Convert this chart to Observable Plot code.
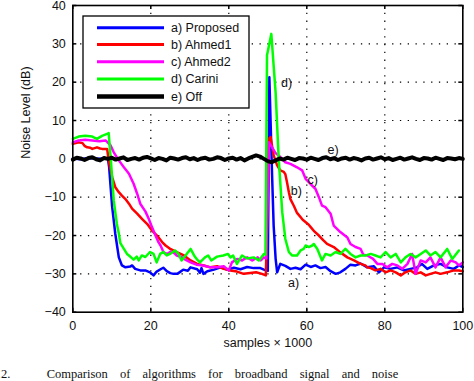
<!DOCTYPE html>
<html>
<head>
<meta charset="utf-8">
<script src="https://cdn.jsdelivr.net/npm/d3@7"></script>
<script src="https://cdn.jsdelivr.net/npm/@observablehq/plot@0.6"></script>
<style>
  body { margin: 0; background: white; width: 474px; height: 381px; overflow: hidden; }
  #chart svg { display: block; }
  #cap { height: 13px; font: 12.5px/12px "Liberation Serif", "DejaVu Serif", serif; white-space: nowrap; margin-left: 1px; word-spacing: 9px; color: #111; }
</style>
</head>
<body>
<div id="chart"></div>
<div id="cap">2.&nbsp;&nbsp; Comparison of algorithms for broadband signal and noise</div>
<script>
// ---- data (samples x 1000, noise level dB) ----
const seriesNames = ["a) Proposed", "b) Ahmed1", "c) Ahmed2", "d) Carini", "e) Off"];
const seriesColors = ["#0000ff", "#ff0000", "#ff00ff", "#00ff00", "#000000"];

const proposed = [[0,0.1],[2,-0.1],[4,0.2],[6,0.0],[8,0.1],[9,0],[9.3,-2],[9.7,-7.4],[10.1,-12.6],[10.5,-16.1],[10.9,-19.6],[11.4,-23],[11.8,-25.7],[12.6,-27.8],[13.5,-28.3],[14.7,-28.1],[15.2,-27.8],[16,-28.7],[17.3,-29.1],[18.6,-29.1],[19.8,-29.6],[20.7,-30.4],[21.5,-29.4],[22.5,-28.8],[23.2,-28.4],[24.1,-29.3],[25,-29.8],[25.8,-30],[26.8,-30],[28.3,-28.9],[29.5,-29.2],[30.2,-28.3],[31.9,-28.8],[32.6,-29.7],[33,-28.5],[33.5,-30],[34.5,-29.3],[36.2,-28.9],[37.9,-28.3],[39.6,-28.9],[41.3,-28.4],[43,-28.8],[44.7,-28.2],[46.4,-28.5],[48.1,-28.5],[49,-28.9],[50,-29.2],[50.4,21.3],[51.1,-4.3],[51.5,-17.4],[52,-26],[52.4,-29.6],[53.2,-27.4],[54.5,-27.9],[55.8,-28.7],[57.1,-28.4],[58.4,-28.8],[59.7,-27.6],[61,-28.2],[62.2,-27.8],[63.5,-28.5],[64.8,-28.2],[66.1,-29.3],[67.4,-30],[68.6,-29.6],[69.9,-28.7],[71.2,-27.6],[72.5,-27.8],[73.8,-27.3],[75.5,-28.3],[77.2,-28],[78.5,-29.6],[79.8,-28.3],[81.5,-28.7],[83.2,-28.3],[84.9,-29.1],[86.6,-28.7],[88.3,-28.3],[89.5,-27.4],[90.9,-28.7],[92.6,-27.8],[94.3,-27.4],[96,-28.3],[97.7,-28.7],[99,-27.8],[100,-28.2]];

const ahmed1 = [[0,3.9],[1,4.2],[1.5,4.3],[2.5,4.1],[3,3.4],[3.7,3],[4.5,2.9],[5,2.6],[6.2,3],[7,2.7],[7.5,2.6],[8.8,2.6],[9.2,-0.4],[10.1,-4.8],[10.9,-7.4],[11.8,-8.7],[12.6,-9.6],[13.5,-10.5],[14.4,-11.7],[15.2,-13],[16.5,-14.3],[17.8,-15.7],[19.1,-17],[20.3,-18.7],[21.6,-20],[22.9,-21.7],[23.8,-22.6],[25,-23.5],[26.8,-24.4],[28.5,-25.2],[30.2,-26.5],[31.9,-27.4],[33.6,-27.8],[35.3,-28.3],[37,-28],[38.7,-28.7],[40.4,-29.1],[42.1,-29.4],[43.8,-30],[45.5,-29.8],[47,-29.6],[48.5,-30],[49.5,-30.4],[50.3,5.2],[50.7,5.7],[51.5,0.9],[52.4,-1.7],[53.2,-3],[54.1,-3.4],[54.5,-4],[54.9,-6],[55.4,-8.7],[55.8,-10.5],[56.7,-12.3],[57.5,-14.1],[58.8,-15.7],[59.2,-16.1],[60.5,-17.2],[61,-17.8],[62,-19],[63.1,-20],[64.2,-21.2],[65.2,-22.2],[66.9,-23],[68.6,-24.4],[70.4,-25.7],[72.1,-26.5],[73.8,-27.4],[75,-27.8],[75.5,-28.3],[76.4,-28.5],[77.6,-29.1],[78.9,-28.7],[80.2,-29.6],[81.5,-29.1],[82.8,-29.6],[84.1,-30.4],[85.3,-29.6],[86.6,-29.1],[87.9,-30],[89.2,-29.6],[90.5,-30.4],[91.7,-30],[93,-29.6],[94.3,-30],[96,-29.6],[97.7,-29.1],[99,-29.1],[100,-29.3]];

const ahmed2 = [[0,4.3],[1.5,4.8],[3.2,5],[5,4.8],[6.8,4.6],[8.4,4.8],[9.7,3.5],[10.5,1.7],[11.8,-0.4],[13.1,-2.2],[14.4,-3.9],[15.6,-6.5],[16.5,-9.1],[17.3,-11.7],[18.6,-13.7],[19.5,-15.7],[20.3,-17.8],[21.2,-20],[22,-21.8],[22.5,-22.6],[23.3,-24.4],[24.2,-24.8],[25.1,-24.2],[26,-24.6],[26.6,-25.2],[27.9,-25.6],[28.5,-26.1],[29.2,-26.5],[30.2,-27],[31.7,-27.6],[33.4,-27.8],[35.3,-28.3],[37,-28.3],[38.7,-28],[40,-29.1],[40.8,-27],[42.1,-26.1],[43.4,-26.5],[44.7,-25.7],[46,-26.5],[47.4,-25.7],[48.2,-26.5],[49,-25.7],[49.6,-26],[50.3,4.3],[50.8,3.5],[51.1,3],[52,1.5],[53.3,0.4],[54.5,-0.9],[55.8,-1.3],[57.5,-2.2],[58.8,-3],[59.7,-5.2],[60.9,-6.5],[62.2,-7.8],[63.1,-10],[63.9,-12.2],[64.8,-12.6],[66.1,-14.3],[66.9,-17.4],[68.6,-19.1],[70.4,-20.5],[71.2,-22.2],[72.5,-23],[73.8,-23.5],[74.5,-25],[75.5,-25.2],[77,-26.1],[78.1,-27.4],[79.4,-27.4],[80.6,-28.3],[81.9,-27.4],[83.2,-27.8],[84.5,-28.7],[85.8,-27.4],[87,-24.8],[87.9,-30],[89.2,-26.5],[90.5,-27],[91.7,-25.7],[93,-28.3],[94.3,-25.7],[95.6,-28.3],[96.9,-26.5],[98.2,-27],[99,-27.8],[100,-27]];

const carini = [[0,5.2],[1.5,5.8],[3.2,6],[5,5.8],[6.2,5.2],[7.5,6],[8.8,6.5],[9.2,6.7],[9.7,0.4],[10.1,-5],[10.5,-10.9],[11.3,-17],[11.8,-19.5],[12.2,-22],[13.1,-23.5],[13.9,-24.8],[14.4,-25.2],[15.6,-26.3],[16.4,-25.5],[16.9,-26.5],[17.7,-25.2],[18.6,-25.6],[19.8,-24.3],[20.7,-24.8],[21.5,-27],[22.4,-24.8],[23.2,-24.3],[24.1,-25.2],[24.9,-24.8],[26.2,-23.9],[27.1,-24.8],[27.9,-26.5],[29.2,-24.8],[30.2,-23.5],[31.1,-25.2],[31.9,-26.3],[32.6,-27],[33.9,-25.7],[34.7,-25.2],[35.5,-26.5],[37,-25.5],[38.6,-25.2],[39.8,-24.8],[40.4,-25.7],[41.1,-25.2],[42.1,-27.4],[43.4,-25.2],[44.7,-26],[46.4,-25.7],[47.7,-26.5],[49,-24.8],[49.4,-25],[49.8,27],[50.9,32.6],[52,17.4],[52.8,0],[53.7,-13.9],[54.5,-20.9],[55.4,-24.3],[56.2,-25.2],[57.5,-25.2],[58.4,-23.9],[59.2,-23.5],[59.7,-22.6],[60.5,-23],[61.4,-22.6],[61.8,-22.2],[62.7,-23.5],[63.9,-26.5],[64.8,-24.8],[66.1,-25.2],[67.4,-24.3],[68.6,-24.8],[69.9,-23.5],[71.2,-24.8],[72.5,-25.7],[73.8,-25.2],[75.1,-25.2],[76.4,-24.8],[77.6,-25.2],[78.9,-25.7],[80.2,-24.3],[81.5,-25.7],[82.8,-24.8],[84.1,-27],[85.3,-25.7],[86.6,-24.8],[87.9,-25.7],[89.2,-24.8],[90.5,-23.9],[91.7,-25.2],[93,-24.3],[94.3,-25.7],[96,-23.5],[97.3,-26.1],[99,-23.9]];

const offLevels = [-0.2,0.3,0.1,-0.3,0.2,0.4,-0.1,-0.4,0.2,0.0,
  0.3,-0.2,0.1,0.4,-0.3,0.0,0.2,-0.2,0.3,0.5,
  0.1,-0.3,0.2,0.0,-0.4,0.3,0.1,-0.2,0.2,0.4,
  -0.1,0.2,-0.3,0.1,0.3,-0.2,0.0,0.4,0.2,-0.3,
  0.1,0.3,-0.2,0.2,-0.4,0.1,0.5,0.9,0.6,0.0,
  -0.6,-0.9,-0.4,0.1,-0.2,0.3,0.0,-0.3,0.2,0.1,
  -0.2,0.3,0.0,-0.3,0.2,0.4,-0.1,0.2,-0.3,0.1,
  0.3,-0.2,0.2,0.0,-0.4,0.1,0.3,-0.2,0.1,0.4,
  -0.1,0.2,-0.3,0.0,0.3,-0.2,0.1,0.4,0.0,-0.3,
  0.2,0.1,-0.2,0.3,0.0,-0.3,0.2,0.1,-0.1,0.2,0.0];
const offSamples = offLevels.map((_, i) => i);

const xTicks = [0, 20, 40, 60, 80, 100];
const yTicks = [-40, -30, -20, -10, 0, 10, 20, 30, 40];
const xLabel = "samples \u00d7 1000";
const yLabel = "Noise Level (dB)";

const tagText = ["a)", "b)", "c)", "d)", "e)"];
const tagX = [55.2, 55.9, 60.2, 53.4, 65.3];
const tagY = [-32.3, -8.5, -5.4, 19.7, 2.4];

// ---- build ----
const xDomain = [0, 100], yDomain = [-40, 40];
const off = offSamples.map((s, i) => [s, offLevels[i]]);
const allSeries = [proposed, ahmed1, ahmed2, carini, off];
const widths = [2.5, 2.5, 2.5, 2.5, 4];
const tags = tagText.map((t, i) => ({t, x: tagX[i], y: tagY[i]}));
const fmt = d => d < 0 ? "\u2212" + (-d) : String(d);
const innerX = xTicks.filter(d => d > xDomain[0] && d < xDomain[1]);
const innerY = yTicks.filter(d => d > yDomain[0] && d < yDomain[1]);

const plot = Plot.plot({
  width: 474, height: 368,
  marginTop: 5, marginLeft: 72.3, marginRight: 11.7, marginBottom: 56.3,
  x: {domain: xDomain}, y: {domain: yDomain},
  style: {fontFamily: "'Liberation Sans', Arial, sans-serif", fontSize: "12.5px", color: "black", background: "white", overflow: "visible"},
  marks: [
    Plot.ruleX(innerX, {x: d => d, stroke: "#000", strokeWidth: 1.2, strokeDasharray: "1.3,6.5"}),
    Plot.ruleY(innerY, {y: d => d, stroke: "#000", strokeWidth: 1.2, strokeDasharray: "1.3,6.5"}),
    ...allSeries.map((s, i) => Plot.line(s, {x: d => d[0], y: d => d[1], stroke: seriesColors[i], strokeWidth: widths[i], strokeLinejoin: "round"})),
    Plot.frame({stroke: "#000", strokeWidth: 1.6}),
    Plot.ruleX(xTicks, {x: d => d, y1: yDomain[0], y2: yDomain[0], insetBottom: 4, stroke: "#000", strokeWidth: 1.5}),
    Plot.ruleX(xTicks, {x: d => d, y1: yDomain[1], y2: yDomain[1], insetTop: 4, stroke: "#000", strokeWidth: 1.5}),
    Plot.ruleY(yTicks, {y: d => d, x1: xDomain[0], x2: xDomain[0], insetLeft: 4, stroke: "#000", strokeWidth: 1.5}),
    Plot.ruleY(yTicks, {y: d => d, x1: xDomain[1], x2: xDomain[1], insetRight: 4, stroke: "#000", strokeWidth: 1.5}),
    Plot.axisX(xTicks, {anchor: "bottom", tickSize: 0, tickPadding: 9, tickFormat: fmt, label: null, fill: "#111"}),
    Plot.axisY(yTicks, {anchor: "left", tickSize: 0, tickPadding: 7, tickFormat: fmt, label: null, fill: "#111"}),
    Plot.text([xLabel], {text: d => d, frameAnchor: "bottom", dy: 34.5, fill: "#111"}),
    Plot.text([yLabel], {text: d => d, frameAnchor: "left", dx: -47, rotate: -90, fill: "#111"}),
    Plot.text(tags, {x: "x", y: "y", text: "t", textAnchor: "start", fill: "#111"})
  ]
});
document.getElementById("chart").append(plot);

// legend box inside the axes (upper left)
const svg = d3.select(plot);
const lg = svg.append("g").attr("font-family", "'Liberation Sans', Arial, sans-serif").attr("font-size", "12.5px").attr("text-anchor", "start");
lg.append("rect").attr("x", 83).attr("y", 16).attr("width", 166).attr("height", 92)
  .attr("fill", "white").attr("stroke", "black").attr("stroke-width", 1.3);
const rowY = [27.7, 44.6, 61.8, 79, 96.5];
seriesNames.forEach((name, i) => {
  lg.append("line").attr("x1", 97).attr("x2", 164).attr("y1", rowY[i]).attr("y2", rowY[i])
    .attr("stroke", seriesColors[i]).attr("stroke-width", i === 4 ? 4.5 : 3);
  lg.append("text").attr("x", 171).attr("y", rowY[i]).attr("dy", "0.35em").attr("text-anchor", "start").attr("fill", "#111").text(name);
});
</script>
</body>
</html>
